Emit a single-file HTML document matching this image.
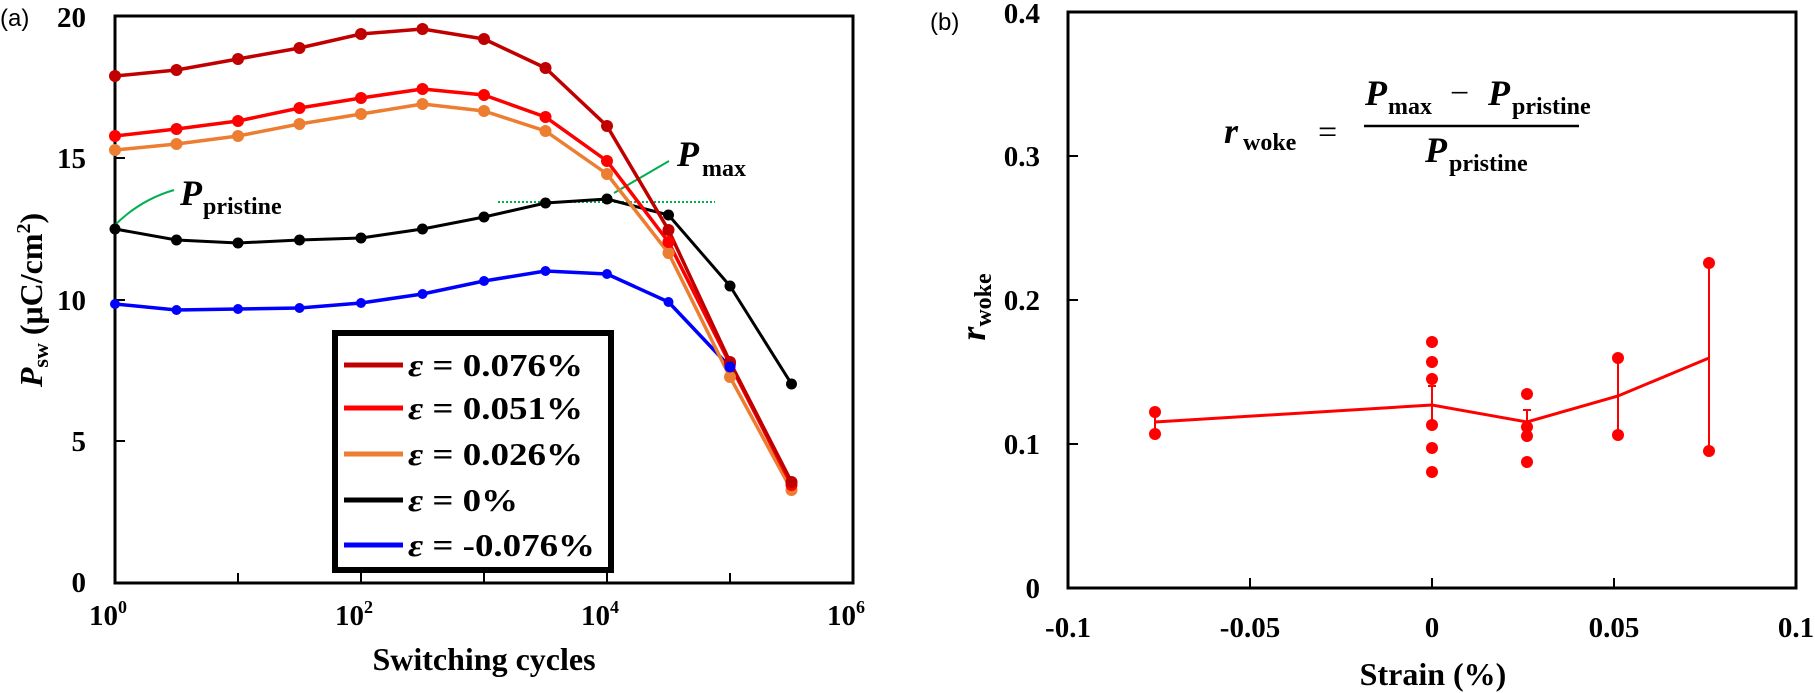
<!DOCTYPE html>
<html><head><meta charset="utf-8"><style>
html,body{margin:0;padding:0;background:#fff;}
svg{display:block;}
text{font-family:"Liberation Serif",serif;font-weight:bold;}
</style></head><body>
<svg width="1815" height="693" viewBox="0 0 1815 693" xmlns="http://www.w3.org/2000/svg">
<!-- Panel a -->
<text x="0" y="26" font-family="Liberation Sans" style="font-family:'Liberation Sans',sans-serif;font-weight:normal" font-size="24">(a)</text>
<rect x="115" y="16" width="738" height="567" fill="none" stroke="#000" stroke-width="3"/>
<g stroke="#000" stroke-width="2">
<line x1="238" y1="583" x2="238" y2="573"/><line x1="361" y1="583" x2="361" y2="573"/><line x1="484" y1="583" x2="484" y2="573"/><line x1="607" y1="583" x2="607" y2="573"/><line x1="730" y1="583" x2="730" y2="573"/>
<line x1="115" y1="158" x2="125" y2="158"/><line x1="115" y1="300" x2="125" y2="300"/><line x1="115" y1="441" x2="125" y2="441"/>
</g>
<g font-size="29" text-anchor="end">
<text x="86" y="27">20</text><text x="86" y="168">15</text><text x="86" y="310">10</text><text x="86" y="451">5</text><text x="86" y="592">0</text>
</g>
<g font-size="29" text-anchor="middle">
<text x="108" y="625">10<tspan font-size="18" dy="-12">0</tspan></text>
<text x="354" y="625">10<tspan font-size="18" dy="-12">2</tspan></text>
<text x="600" y="625">10<tspan font-size="18" dy="-12">4</tspan></text>
<text x="846" y="625">10<tspan font-size="18" dy="-12">6</tspan></text>
</g>
<text x="484" y="670" font-size="32" text-anchor="middle">Switching cycles</text>
<text transform="translate(42,300) rotate(-90)" font-size="32" text-anchor="middle"><tspan font-style="italic">P</tspan><tspan font-size="22" dy="6">sw</tspan><tspan dy="-6"> (μC/cm</tspan><tspan font-size="20" dy="-12">2</tspan><tspan dy="12">)</tspan></text>

<!-- annotations -->
<path d="M115,225 Q140,200 174,190" fill="none" stroke="#00b050" stroke-width="2"/>
<text x="180" y="205" font-size="36" font-style="italic">P</text><text x="203" y="214" font-size="24">pristine</text>
<line x1="614" y1="193" x2="669" y2="161" stroke="#00b050" stroke-width="2"/>
<text x="677" y="166" font-size="36" font-style="italic">P</text><text x="702" y="176" font-size="24">max</text>
<line x1="498" y1="202" x2="715" y2="202" stroke="#00b050" stroke-width="2" stroke-dasharray="2,2"/>

<!-- series -->
<g fill="none" stroke-width="3.5" stroke-linejoin="round">
<polyline stroke="#0000ff" points="115,304 176.5,310 238,309 299.5,308 361,303 422.5,294 484,281 545.5,271 607,274 668.5,302 730,367"/>
<polyline stroke="#000" stroke-width="3" points="115,229 176.5,240 238,243 299.5,240 361,238 422.5,229 484,217 545.5,203 607,199 668.5,215 730,286 791.5,384"/>
<polyline stroke="#ed7d31" points="115,150 176.5,144 238,136 299.5,124 361,114 422.5,104 484,111 545.5,131 607,174 668.5,253 730,377 791.5,490"/>
<polyline stroke="#ff0000" points="115,136 176.5,129 238,121 299.5,108 361,98 422.5,89 484,95 545.5,117 607,161 668.5,242 730,364 791.5,485"/>
<polyline stroke="#c00000" points="115,76 176.5,70 238,59 299.5,48 361,34 422.5,29 484,39 545.5,68 607,126 668.5,230 730,362 791.5,482"/>
</g>
<g fill="#0000ff"><circle cx="115" cy="304" r="5"/><circle cx="176.5" cy="310" r="5"/><circle cx="238" cy="309" r="5"/><circle cx="299.5" cy="308" r="5"/><circle cx="361" cy="303" r="5"/><circle cx="422.5" cy="294" r="5"/><circle cx="484" cy="281" r="5"/><circle cx="545.5" cy="271" r="5"/><circle cx="607" cy="274" r="5"/><circle cx="668.5" cy="302" r="5"/></g>
<g fill="#000"><circle cx="115" cy="229" r="5.5"/><circle cx="176.5" cy="240" r="5.5"/><circle cx="238" cy="243" r="5.5"/><circle cx="299.5" cy="240" r="5.5"/><circle cx="361" cy="238" r="5.5"/><circle cx="422.5" cy="229" r="5.5"/><circle cx="484" cy="217" r="5.5"/><circle cx="545.5" cy="203" r="5.5"/><circle cx="607" cy="199" r="5.5"/><circle cx="668.5" cy="215" r="5.5"/><circle cx="730" cy="286" r="5.5"/><circle cx="791.5" cy="384" r="5.5"/></g>
<g fill="#ed7d31"><circle cx="115" cy="150" r="6"/><circle cx="176.5" cy="144" r="6"/><circle cx="238" cy="136" r="6"/><circle cx="299.5" cy="124" r="6"/><circle cx="361" cy="114" r="6"/><circle cx="422.5" cy="104" r="6"/><circle cx="484" cy="111" r="6"/><circle cx="545.5" cy="131" r="6"/><circle cx="607" cy="174" r="6"/><circle cx="668.5" cy="253" r="6"/><circle cx="730" cy="377" r="6"/><circle cx="791.5" cy="490" r="6"/></g>
<g fill="#ff0000"><circle cx="115" cy="136" r="6"/><circle cx="176.5" cy="129" r="6"/><circle cx="238" cy="121" r="6"/><circle cx="299.5" cy="108" r="6"/><circle cx="361" cy="98" r="6"/><circle cx="422.5" cy="89" r="6"/><circle cx="484" cy="95" r="6"/><circle cx="545.5" cy="117" r="6"/><circle cx="607" cy="161" r="6"/><circle cx="668.5" cy="242" r="6"/><circle cx="730" cy="364" r="6"/><circle cx="791.5" cy="485" r="6"/></g>
<g fill="#c00000"><circle cx="115" cy="76" r="6"/><circle cx="176.5" cy="70" r="6"/><circle cx="238" cy="59" r="6"/><circle cx="299.5" cy="48" r="6"/><circle cx="361" cy="34" r="6"/><circle cx="422.5" cy="29" r="6"/><circle cx="484" cy="39" r="6"/><circle cx="545.5" cy="68" r="6"/><circle cx="607" cy="126" r="6"/><circle cx="668.5" cy="230" r="6"/><circle cx="730" cy="362" r="6"/><circle cx="791.5" cy="482" r="6"/></g>
<circle cx="730" cy="367" r="5.5" fill="#0000ff"/>

<!-- legend -->
<rect x="335" y="333" width="276" height="237" fill="#fff" stroke="#000" stroke-width="6"/>
<g stroke-width="5">
<line x1="344" y1="365" x2="403" y2="365" stroke="#c00000"/>
<line x1="344" y1="408" x2="403" y2="408" stroke="#ff0000"/>
<line x1="344" y1="454" x2="403" y2="454" stroke="#ed7d31"/>
<line x1="344" y1="500" x2="403" y2="500" stroke="#000"/>
<line x1="344" y1="545" x2="403" y2="545" stroke="#0000ff"/>
</g>
<g font-size="32">
<text x="408" y="376" textLength="175" lengthAdjust="spacingAndGlyphs"><tspan font-style="italic">ε</tspan> = 0.076%</text>
<text x="408" y="419" textLength="175" lengthAdjust="spacingAndGlyphs"><tspan font-style="italic">ε</tspan> = 0.051%</text>
<text x="408" y="465" textLength="175" lengthAdjust="spacingAndGlyphs"><tspan font-style="italic">ε</tspan> = 0.026%</text>
<text x="408" y="511" textLength="110" lengthAdjust="spacingAndGlyphs"><tspan font-style="italic">ε</tspan> = 0%</text>
<text x="408" y="556" textLength="187" lengthAdjust="spacingAndGlyphs"><tspan font-style="italic">ε</tspan> = -0.076%</text>
</g>

<!-- Panel b -->
<text x="930" y="30" style="font-family:'Liberation Sans',sans-serif;font-weight:normal" font-size="24">(b)</text>
<rect x="1068" y="12" width="728" height="576" fill="none" stroke="#000" stroke-width="3"/>
<g stroke="#000" stroke-width="2">
<line x1="1250" y1="588" x2="1250" y2="578"/><line x1="1432" y1="588" x2="1432" y2="578"/><line x1="1614" y1="588" x2="1614" y2="578"/>
<line x1="1068" y1="156" x2="1078" y2="156"/><line x1="1068" y1="300" x2="1078" y2="300"/><line x1="1068" y1="444" x2="1078" y2="444"/>
</g>
<g font-size="29" text-anchor="end">
<text x="1040" y="23">0.4</text><text x="1040" y="166">0.3</text><text x="1040" y="310">0.2</text><text x="1040" y="454">0.1</text><text x="1040" y="598">0</text>
</g>
<g font-size="29" text-anchor="middle">
<text x="1068" y="637">-0.1</text><text x="1250" y="637">-0.05</text><text x="1432" y="637">0</text><text x="1614" y="637">0.05</text><text x="1796" y="637">0.1</text>
</g>
<text x="1433" y="685" font-size="32" text-anchor="middle">Strain (%)</text>
<text transform="translate(985,307) rotate(-90)" font-size="36" text-anchor="middle"><tspan font-style="italic">r</tspan><tspan font-size="24" dy="6">woke</tspan></text>

<!-- formula -->
<text x="1224" y="143" font-size="36" font-style="italic">r</text><text x="1243" y="150" font-size="24">woke</text>
<text x="1318" y="143" font-size="34" style="font-weight:normal">=</text>
<line x1="1364" y1="126" x2="1579" y2="126" stroke="#000" stroke-width="2.5"/>
<text x="1365" y="105" font-size="36" font-style="italic">P</text><text x="1388" y="114" font-size="24">max</text>
<text x="1450" y="104" font-size="34" style="font-weight:normal">−</text>
<text x="1488" y="105" font-size="36" font-style="italic">P</text><text x="1512" y="114" font-size="24">pristine</text>
<text x="1425" y="162" font-size="36" font-style="italic">P</text><text x="1449" y="171" font-size="24">pristine</text>

<!-- data b -->
<g stroke="#ff0000" fill="none">
<polyline stroke-width="3" points="1155,422 1432,405 1527,422 1618,396 1709,358"/>
<g stroke-width="2">
<line x1="1155" y1="412" x2="1155" y2="432"/>
<line x1="1432" y1="386" x2="1432" y2="424"/><line x1="1428" y1="386" x2="1436" y2="386"/>
<line x1="1527" y1="410" x2="1527" y2="434"/><line x1="1523" y1="410" x2="1531" y2="410"/>
<line x1="1618" y1="358" x2="1618" y2="435"/>
<line x1="1709" y1="263" x2="1709" y2="451"/>
</g>
</g>
<g fill="#ff0000">
<circle cx="1155" cy="412" r="6"/><circle cx="1155" cy="434" r="6"/>
<circle cx="1432" cy="342" r="6"/><circle cx="1432" cy="362" r="6"/><circle cx="1432" cy="379" r="6"/><circle cx="1432" cy="425" r="6"/><circle cx="1432" cy="448" r="6"/><circle cx="1432" cy="472" r="6"/>
<circle cx="1527" cy="394" r="6"/><circle cx="1527" cy="427" r="6"/><circle cx="1527" cy="436" r="6"/><circle cx="1527" cy="462" r="6"/>
<circle cx="1618" cy="358" r="6"/><circle cx="1618" cy="435" r="6"/>
<circle cx="1709" cy="263" r="6"/><circle cx="1709" cy="451" r="6"/>
</g>
</svg>
</body></html>
